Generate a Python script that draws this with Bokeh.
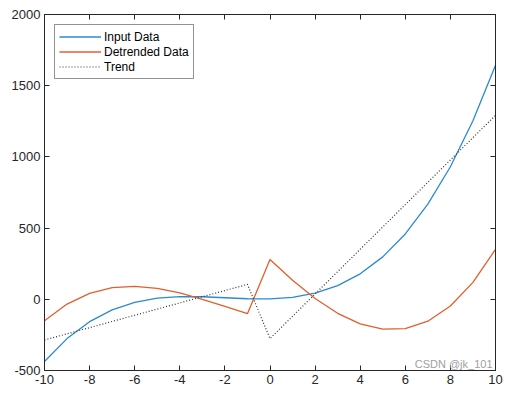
from bokeh.plotting import figure
from bokeh.models import LinearAxis, FixedTicker, Range1d, Legend, LegendItem, Label
from bokeh.embed import file_html
from bokeh.resources import INLINE

t = [-10, -9, -8, -7, -6, -5, -4, -3, -2, -1, 0, 1, 2, 3, 4, 5, 6, 7, 8, 9, 10]
input_data = [-437, -276, -157, -74, -21, 8, 19, 18, 11, 4, 3, 14, 43, 96, 179, 298, 459, 668, 931, 1254, 1643]
detrended = [-151.2, -33.6, 42, 81.6, 91.2, 76.8, 44.4, 0, -50.4, -100.8, 279, 133.2, 5.4, -98.4, -172.2, -210, -205.8, -153.6, -47.4, 118.8, 351]
trend = [-285.8, -242.4, -199.0, -155.6, -112.2, -68.8, -25.4, 18.0, 61.4, 104.8, -276, -119.2, 37.6, 194.4, 351.2, 508, 664.8, 821.6, 978.4, 1135.2, 1292]
x_ticks = [-10, -8, -6, -4, -2, 0, 2, 4, 6, 8, 10]
y_ticks = [-500, 0, 500, 1000, 1500, 2000]

FONT = "Liberation Sans"
AX = "#262626"

p = figure(frame_width=451, frame_height=356, output_backend="svg", toolbar_location=None,
           x_range=Range1d(-10, 10), y_range=Range1d(-500, 2000),
           x_axis_location=None, y_axis_location=None,
           min_border_left=44, min_border_right=13, min_border_top=14, min_border_bottom=24)
p.grid.visible = False
p.outline_line_color = AX
p.outline_line_width = 1
p.background_fill_color = "white"
p.border_fill_color = "white"

def make_axis(ticks, labels=True):
    ax = LinearAxis(ticker=FixedTicker(ticks=ticks))
    ax.axis_line_color = AX
    ax.major_tick_line_color = AX
    ax.major_tick_in = 5
    ax.major_tick_out = 0
    ax.minor_tick_line_color = None
    ax.major_label_text_font = FONT
    ax.major_label_text_color = AX
    ax.major_label_text_font_size = "13px"
    if labels:
        ax.major_label_overrides = {v: str(v) for v in ticks}
        ax.major_label_standoff = 4
    else:
        ax.major_label_overrides = {v: "" for v in ticks}
        ax.major_label_standoff = 0
    return ax

p.add_layout(make_axis(x_ticks), "below")
p.add_layout(make_axis(y_ticks), "left")
p.add_layout(make_axis(x_ticks, False), "above")
p.add_layout(make_axis(y_ticks, False), "right")

r1 = p.line(t, input_data, line_color="#2A8AD2", line_width=1.3)
r2 = p.line(t, detrended, line_color="#E05F2C", line_width=1.3)
r3 = p.line(t, trend, line_color="#333333", line_width=1.2, line_dash="1 2")

legend = Legend(items=[LegendItem(label="Input Data", renderers=[r1]),
                       LegendItem(label="Detrended Data", renderers=[r2]),
                       LegendItem(label="Trend", renderers=[r3])],
                location="top_left")
legend.label_text_font = FONT
legend.label_text_font_size = "12px"
legend.label_text_color = "black"
legend.border_line_color = AX
legend.border_line_width = 1
legend.glyph_width = 42
legend.glyph_height = 15
legend.label_height = 15
legend.spacing = 0
legend.padding = 4
legend.margin = 10
legend.label_standoff = 3
p.add_layout(legend)

wm = Label(x=448, y=7, x_units="screen", y_units="screen", text="CSDN @jk_101",
           text_font=FONT, text_font_size="11px", text_color="#a0a0a0",
           text_align="right", text_baseline="middle")
p.add_layout(wm)

open("out.html", "w").write(file_html(p, INLINE))
